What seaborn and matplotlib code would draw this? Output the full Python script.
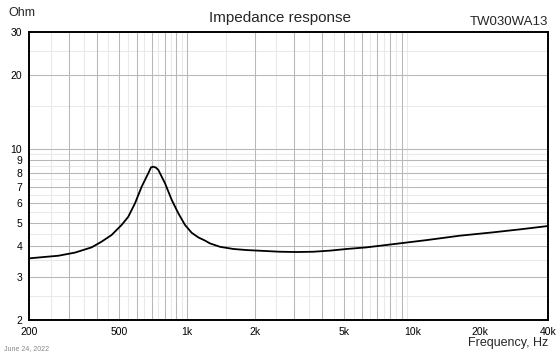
import numpy as np
import pandas as pd
import matplotlib
matplotlib.use("Agg")
import matplotlib.pyplot as plt
import seaborn as sns
from matplotlib.ticker import FixedLocator, NullLocator, NullFormatter

# impedance curve
FREQ_HZ = [200, 228, 270, 320, 379, 420, 465, 515, 551, 590, 632, 676, 695, 711, 731,
           749, 802, 859, 918, 983, 1053, 1126, 1206, 1269, 1406, 1610, 1846, 2188,
           2594, 3076, 3642, 4320, 5124, 6283, 8220, 11600, 16290, 22810, 30060, 40000]
IMPEDANCE_OHM = [3.57, 3.61, 3.66, 3.77, 3.96, 4.18, 4.45, 4.89, 5.28, 5.99, 7.01, 7.95,
                 8.40, 8.45, 8.38, 8.20, 7.23, 6.18, 5.46, 4.89, 4.54, 4.35, 4.22, 4.11,
                 3.98, 3.90, 3.86, 3.83, 3.80, 3.79, 3.80, 3.84, 3.90, 3.96, 4.08, 4.24,
                 4.42, 4.56, 4.69, 4.84]

X_TICKS = [200, 500, 1000, 2000, 5000, 10000, 20000, 40000]
X_TICK_LABELS = ["200", "500", "1k", "2k", "5k", "10k", "20k", "40k"]
Y_TICKS = [2, 3, 4, 5, 6, 7, 8, 9, 10, 20, 30]
Y_TICK_LABELS = ["2", "3", "4", "5", "6", "7", "8", "9", "10", "20", "30"]

sns.set_theme(style="white")
plt.rcParams["font.family"] = ["Liberation Sans", "DejaVu Sans"]


def grid_values(lo, hi):
    """Medium lines at n*10^k, faint lines at half steps (like the reference)."""
    medium, faint = [], []
    for dec in [10, 100, 1000, 10000]:
        for m in range(1, 10):
            v = m * dec / 10
            if lo < v < hi:
                medium.append(v)
            h = (m + 0.5) * dec / 10
            if lo < h < hi:
                faint.append(h)
    return medium, faint


df = pd.DataFrame({"freq": FREQ_HZ, "ohm": IMPEDANCE_OHM})

fig = plt.figure(figsize=(5.6, 3.54), dpi=100)
ax = fig.add_axes([29 / 560, 1 - 320 / 354, 519 / 560, 288 / 354])
ax.set_xscale("log")
ax.set_yscale("log")
ax.set_xlim(200, 40000)
ax.set_ylim(2, 30)

xm, xf = grid_values(200, 40000)
ym, yf = grid_values(2, 30)
for v in xf:
    ax.axvline(v, color="#e9e9e9", lw=0.75, zorder=0)
for v in yf:
    ax.axhline(v, color="#e9e9e9", lw=0.75, zorder=0)
for v in xm:
    ax.axvline(v, color="#b8b8b8", lw=0.75, zorder=1)
for v in ym:
    ax.axhline(v, color="#b8b8b8", lw=0.75, zorder=1)

sns.lineplot(data=df, x="freq", y="ohm", color="black", lw=1.3, ax=ax, zorder=3)

ax.xaxis.set_major_locator(FixedLocator(X_TICKS))
ax.xaxis.set_minor_locator(NullLocator())
ax.xaxis.set_minor_formatter(NullFormatter())
ax.set_xticklabels(X_TICK_LABELS)
ax.yaxis.set_major_locator(FixedLocator(Y_TICKS))
ax.yaxis.set_minor_locator(NullLocator())
ax.yaxis.set_minor_formatter(NullFormatter())
ax.set_yticklabels(Y_TICK_LABELS)
ax.tick_params(axis="both", length=0, labelsize=7.5, colors="black")
ax.tick_params(axis="x", pad=5)
ax.tick_params(axis="y", pad=5)
ax.set_xlabel("")
ax.set_ylabel("")
for s in ax.spines.values():
    s.set_color("black")
    s.set_linewidth(1.4)
    s.set_visible(True)

fig.text(8 / 560, 1 - 13 / 354, "Ohm", fontsize=9, ha="left", va="center")
fig.text(280 / 560, 1 - 18 / 354, "Impedance response", fontsize=11, ha="center", va="center")
fig.text(548 / 560, 1 - 22 / 354, "TW030WA13", fontsize=9.5, ha="right", va="center")
fig.text(548 / 560, 1 - 343 / 354, "Frequency, Hz", fontsize=9, ha="right", va="center")
fig.text(4 / 560, 1 - 349 / 354, "June 24, 2022", fontsize=5, color="#888888", ha="left", va="center")

fig.savefig("out.png", dpi=100, facecolor="white")
